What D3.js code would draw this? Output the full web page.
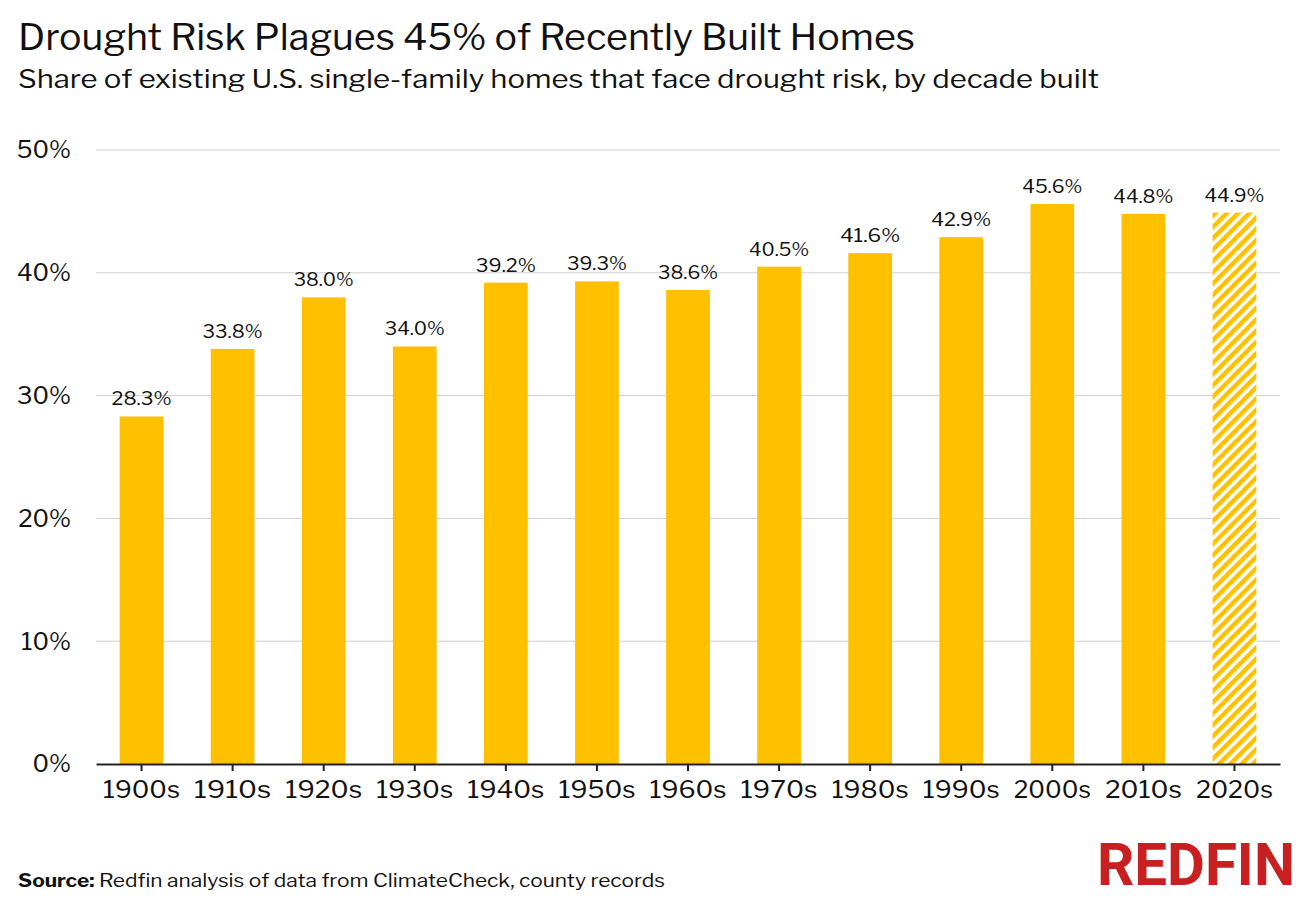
<!DOCTYPE html>
<html>
<head>
<meta charset="utf-8">
<script src="https://cdn.jsdelivr.net/npm/d3@7"></script>
<style>
  body { margin: 0; background: #fff; }
  text { font-family: "Libre Franklin", "Open Sans", sans-serif; }
</style>
</head>
<body>
<div id="chart"></div>
<script>
var decades = ["1900s","1910s","1920s","1930s","1940s","1950s","1960s","1970s","1980s","1990s","2000s","2010s","2020s"];
var shares = [28.3, 33.8, 38.0, 34.0, 39.2, 39.3, 38.6, 40.5, 41.6, 42.9, 45.6, 44.8, 44.9];
var yTicks = [0, 10, 20, 30, 40, 50];
var partialDecade = "2020s";

function init()
{
    const width = 1302;
    const height = 899;
    var left = 96, right = 1280, top = 150, bottom = 764;

    var svg = d3.select("#chart")
        .append("svg")
        .attr("width", width)
        .attr("height", height);

    var defs = svg.append("defs");
    var pat = defs.append("pattern")
        .attr("id", "hatch")
        .attr("patternUnits", "userSpaceOnUse")
        .attr("width", 8)
        .attr("height", 8)
        .attr("patternTransform", "rotate(45)");
    pat.append("rect").attr("width", 8).attr("height", 8).attr("fill", "#fff");
    pat.append("rect").attr("width", 4.5).attr("height", 8).attr("fill", "#FFC000");

    svg.append("text")
        .attr("x", 18).attr("y", 50)
        .attr("font-size", 36)
        .attr("fill", "#111")
        .attr("textLength", 897)
        .attr("lengthAdjust", "spacingAndGlyphs")
        .text("Drought Risk Plagues 45% of Recently Built Homes");
    svg.append("text")
        .attr("x", 18).attr("y", 88)
        .attr("font-size", 26)
        .attr("fill", "#111")
        .attr("textLength", 1081)
        .attr("lengthAdjust", "spacingAndGlyphs")
        .text("Share of existing U.S. single-family homes that face drought risk, by decade built");

    var x = d3.scaleBand()
        .domain(decades)
        .range([left, right])
        .paddingInner(0.52)
        .paddingOuter(0.26);

    var y = d3.scaleLinear()
        .domain([0, 50])
        .range([bottom, top]);

    // gridlines
    svg.append("g")
        .selectAll("line")
        .data(yTicks.filter(function(d){ return d > 0; }))
        .enter()
        .append("line")
        .attr("x1", left).attr("x2", right)
        .attr("y1", function(d){ return y(d); })
        .attr("y2", function(d){ return y(d); })
        .attr("stroke", "#d0d0d0")
        .attr("stroke-width", 1);

    // y labels
    svg.append("g")
        .selectAll("text")
        .data(yTicks)
        .enter()
        .append("text")
        .attr("x", 71)
        .attr("y", function(d){ return y(d); })
        .attr("dy", "0.35em")
        .attr("text-anchor", "end")
        .attr("font-size", 24)
        .attr("fill", "#111")
        .text(function(d){ return d + "%"; });

    // bars
    svg.append("g")
        .selectAll("rect")
        .data(decades)
        .enter()
        .append("rect")
        .attr("x", function(d){ return x(d); })
        .attr("width", x.bandwidth())
        .attr("y", function(d,i){ return y(shares[i]); })
        .attr("height", function(d,i){ return bottom - y(shares[i]); })
        .attr("fill", function(d){ return d === partialDecade ? "url(#hatch)" : "#FFC000"; });

    // value labels
    svg.append("g")
        .selectAll("text")
        .data(decades)
        .enter()
        .append("text")
        .attr("x", function(d){ return x(d) + x.bandwidth() / 2; })
        .attr("y", function(d,i){ return y(shares[i]) - 11; })
        .attr("text-anchor", "middle")
        .attr("font-size", 19)
        .attr("fill", "#111")
        .attr("textLength", 60)
        .attr("lengthAdjust", "spacingAndGlyphs")
        .text(function(d,i){ return shares[i].toFixed(1) + "%"; });

    // x axis
    var xAxis = svg.append("g")
        .attr("transform", "translate(0," + bottom + ")")
        .call(d3.axisBottom(x).tickSize(7).tickPadding(10).tickSizeOuter(0));
    xAxis.select(".domain").attr("stroke", "#222").attr("stroke-width", 2);
    xAxis.selectAll(".tick line").attr("stroke", "#222").attr("stroke-width", 2);
    xAxis.selectAll(".tick text")
        .attr("font-size", 24)
        .attr("fill", "#111")
        .attr("textLength", 77)
        .attr("lengthAdjust", "spacingAndGlyphs")
        .style("font-family", "'Libre Franklin', 'Open Sans', sans-serif");

    // source
    var src = svg.append("text")
        .attr("x", 18).attr("y", 887)
        .attr("font-size", 19)
        .attr("fill", "#111")
        .attr("textLength", 647)
        .attr("lengthAdjust", "spacingAndGlyphs");
    src.append("tspan").attr("font-weight", "bold").text("Source:");
    src.append("tspan").text(" Redfin analysis of data from ClimateCheck, county records");

    svg.append("text")
        .attr("x", 1295).attr("y", 885)
        .attr("text-anchor", "end")
        .attr("font-size", 60)
        .attr("font-weight", "bold")
        .attr("fill", "#C82021")
        .style("font-family", "'Liberation Sans Narrow', 'Roboto', sans-serif")
        .attr("textLength", 198)
        .attr("lengthAdjust", "spacingAndGlyphs")
        .text("REDFIN");
}

init();
</script>
</body>
</html>
